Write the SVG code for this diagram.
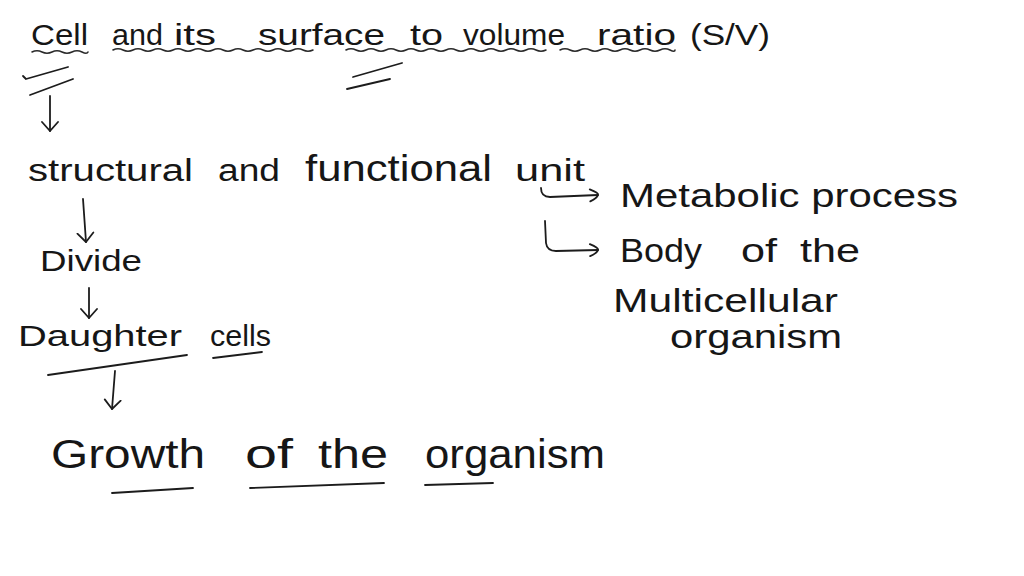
<svg xmlns="http://www.w3.org/2000/svg" width="1024" height="576" viewBox="0 0 1024 576">
<defs>
<style>
.t{font-family:"Liberation Sans","DejaVu Sans",sans-serif;fill:#161616}
.t tspan,.t.j{}
.s{fill:none;stroke:#1c1c1c;stroke-width:1.8;stroke-linecap:round;stroke-linejoin:round}
.w{fill:none;stroke:#2a2a2a;stroke-width:1.6;stroke-linecap:round}
</style>
<marker id="v" viewBox="0 0 20 20" refX="10" refY="10" markerWidth="20" markerHeight="20" markerUnits="userSpaceOnUse" orient="auto">
<path d="M1 2 L10 10 L1 18" fill="none" stroke="#1c1c1c" stroke-width="1.8" stroke-linecap="round" stroke-linejoin="round"/>
</marker>
<marker id="c" viewBox="0 0 20 20" refX="12" refY="10" markerWidth="20" markerHeight="20" markerUnits="userSpaceOnUse" orient="auto">
<path d="M4 4 Q13 8 12 10 Q11 13 4 16" fill="none" stroke="#1c1c1c" stroke-width="1.8" stroke-linecap="round"/>
</marker>
</defs>
<rect width="1024" height="576" fill="#ffffff"/>

<g id="title">
<text class="t" font-size="30" y="45"><tspan x="31" textLength="57" lengthAdjust="spacingAndGlyphs">Cell</tspan><tspan x="112" textLength="51" lengthAdjust="spacingAndGlyphs">and</tspan><tspan x="174" textLength="42" lengthAdjust="spacingAndGlyphs">its</tspan><tspan x="258" textLength="127" lengthAdjust="spacingAndGlyphs">surface</tspan><tspan x="410" textLength="33" lengthAdjust="spacingAndGlyphs">to</tspan><tspan x="463" textLength="102" lengthAdjust="spacingAndGlyphs">volume</tspan><tspan x="597" textLength="79" lengthAdjust="spacingAndGlyphs">ratio</tspan><tspan x="690" textLength="80" lengthAdjust="spacingAndGlyphs">(S/V)</tspan></text>
<path class="w" d="M32 52 q5 -2.5 10 0 t10 0 t10 0 t10 0 t10 0 t6 0"/>
<path class="w" d="M113 50 q5 -2.5 10 0 t10 0 t10 0 t10 0 t10 0 t10 0 t10 0 t10 0 t10 0 t10 0 t10 0 t10 0 t10 0 t10 0 t10 0 t10 0 t10 0 t10 0 t10 0 t10 0"/>
<path class="w" d="M346 50 q5 -2.5 10 0 t10 0 t10 0 t10 0 t10 0 t10 0 t10 0 t10 0 t10 0 t10 0 t10 0 t10 0 t10 0 t10 0 t10 0 t10 0 t10 0 t10 0 t10 0 t10 0"/>
<path class="w" d="M560 50 q5 -2.5 10 0 t10 0 t10 0 t10 0 t10 0 t10 0 t10 0 t10 0 t10 0 t10 0 t10 0 t5 0"/>
<path class="s" d="M23 76 L26 79 L68 67"/>
<path class="s" d="M30 95 L73 79"/>
<path class="s" d="M353 77 L402 63"/>
<path class="s" d="M347 89 L390 79"/>
</g>

<g id="unit">
<text class="t" font-size="31" y="181"><tspan x="28" textLength="165" lengthAdjust="spacingAndGlyphs">structural</tspan><tspan x="218" textLength="62" lengthAdjust="spacingAndGlyphs">and</tspan><tspan x="305" textLength="187" lengthAdjust="spacingAndGlyphs" font-size="37">functional</tspan><tspan x="515" textLength="70" lengthAdjust="spacingAndGlyphs">unit</tspan></text>
</g>

<g id="divide">
<text class="t" font-size="29" x="40" y="271" textLength="102" lengthAdjust="spacingAndGlyphs">Divide</text>
</g>

<g id="daughter">
<text class="t" font-size="30" y="346"><tspan x="18" textLength="164" lengthAdjust="spacingAndGlyphs">Daughter</tspan><tspan x="210" textLength="61" lengthAdjust="spacingAndGlyphs">cells</tspan></text>
<path class="s" d="M48 375 L187 355"/>
<path class="s" d="M213 358 L262 352"/>
</g>

<g id="growth">
<text class="t" font-size="40" y="468"><tspan x="51" textLength="154" lengthAdjust="spacingAndGlyphs">Growth</tspan><tspan x="245" textLength="48" lengthAdjust="spacingAndGlyphs">of</tspan><tspan x="318" textLength="70" lengthAdjust="spacingAndGlyphs">the</tspan><tspan x="425" textLength="180" lengthAdjust="spacingAndGlyphs">organism</tspan></text>
<path class="s" d="M112 493 L193 488"/>
<path class="s" d="M250 488 L384 483"/>
<path class="s" d="M425 485 L493 483"/>
</g>

<g id="metabolic">
<text class="t" font-size="34" x="620" y="207" textLength="338" lengthAdjust="spacingAndGlyphs">Metabolic process</text>
</g>

<g id="body">
<text class="t" font-size="34" y="262"><tspan x="620" textLength="82" lengthAdjust="spacingAndGlyphs">Body</tspan><tspan x="741" textLength="36" lengthAdjust="spacingAndGlyphs">of</tspan><tspan x="800" textLength="60" lengthAdjust="spacingAndGlyphs">the</tspan></text>
<text class="t" font-size="33" x="613" y="312" textLength="225" lengthAdjust="spacingAndGlyphs">Multicellular</text>
<text class="t" font-size="34" x="670" y="348" textLength="172" lengthAdjust="spacingAndGlyphs">organism</text>
</g>

<g id="connectors">
<path class="s" d="M50 96 L50 131" marker-end="url(#v)"/>
<path class="s" d="M83 199 L86 242" marker-end="url(#v)"/>
<path class="s" d="M89 288 L89 318" marker-end="url(#v)"/>
<path class="s" d="M115 371 L112 409" marker-end="url(#v)"/>
<path class="s" d="M541 188 Q541 197 550 197 L598 195" marker-end="url(#c)"/>
<path class="s" d="M545 221 L546 243 Q547 251 556 251 L598 250" marker-end="url(#c)"/>
</g>
</svg>
